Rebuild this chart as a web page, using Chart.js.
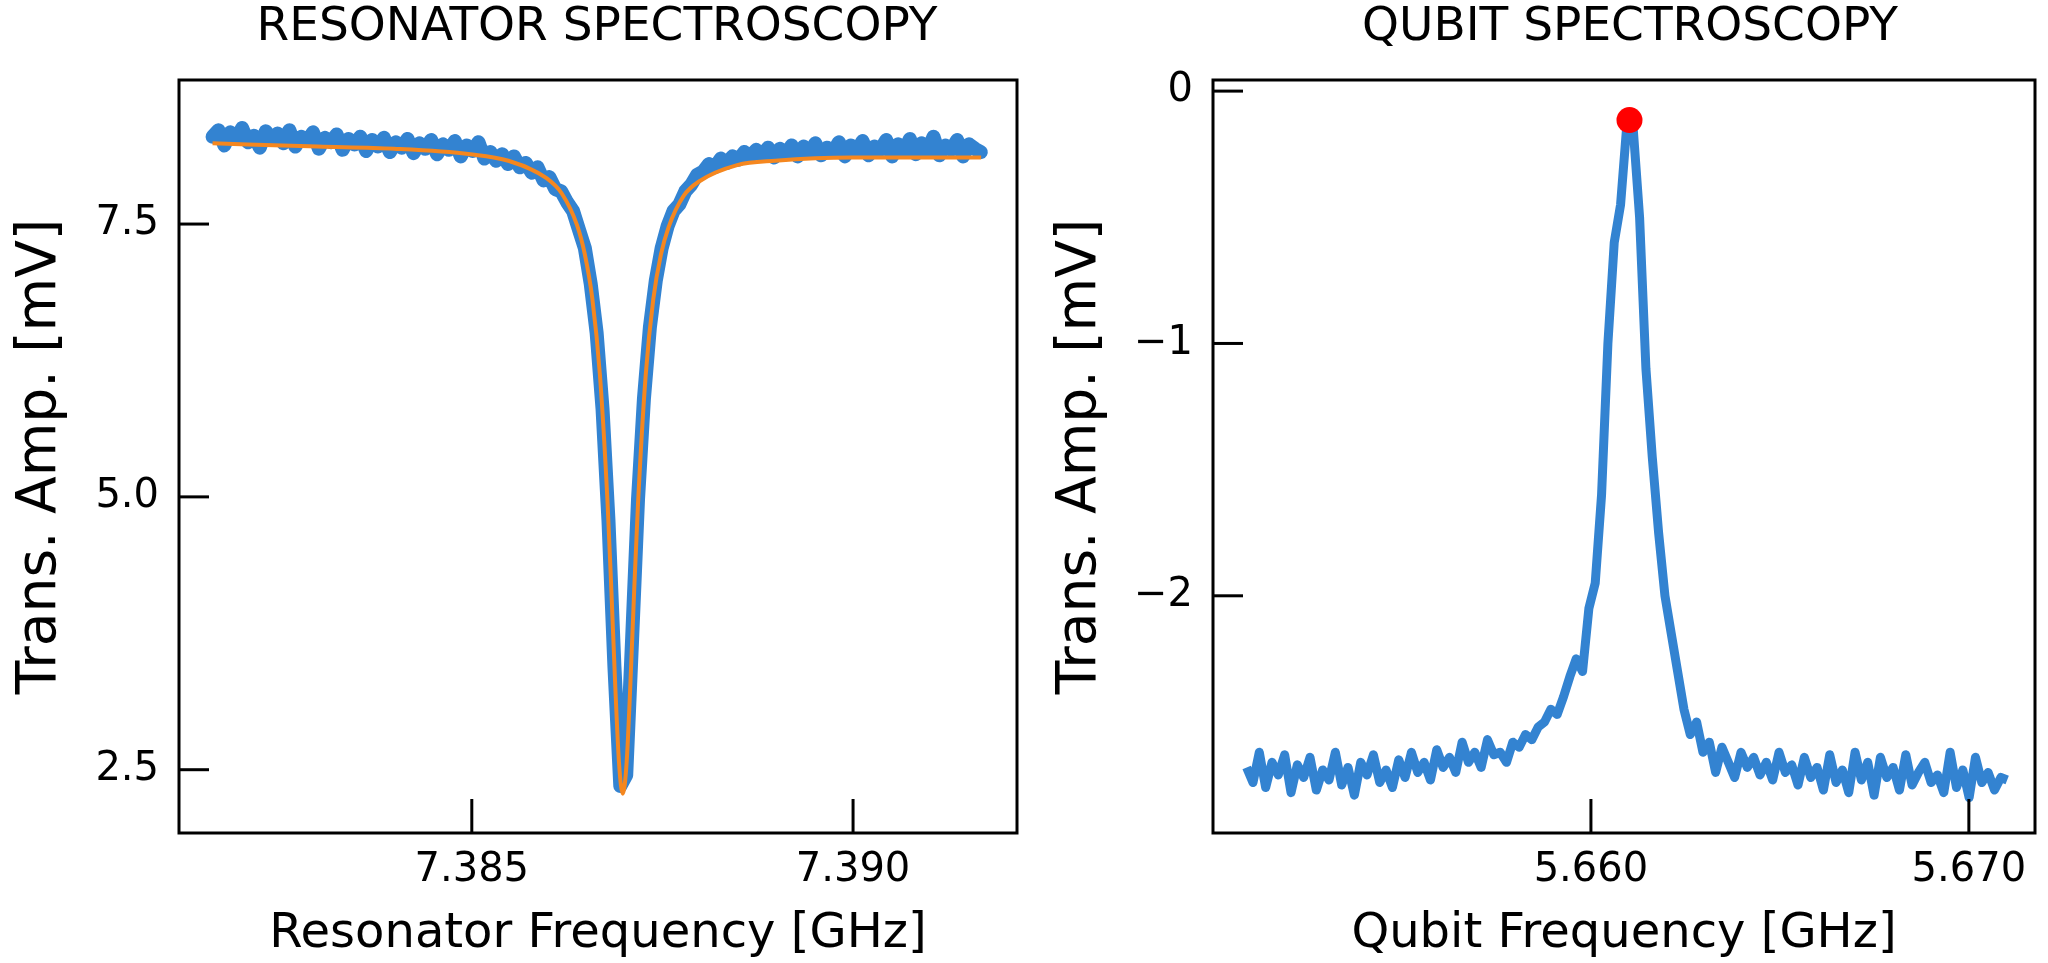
<!DOCTYPE html>
<html><head><meta charset="utf-8">
<script src="https://cdn.jsdelivr.net/npm/chart.js@4.4.1/dist/chart.umd.min.js"></script>
<style>
html,body{margin:0;padding:0;background:#fff;width:2048px;height:963px;overflow:hidden}
#w1{position:absolute;left:0;top:0;width:1040px;height:963px}
#w2{position:absolute;left:1040px;top:0;width:1008px;height:963px}
</style></head><body>
<div id="w1"><canvas id="c1"></canvas></div>
<div id="w2"><canvas id="c2"></canvas></div>
<script>
// ---- Resonator spectroscopy data ----
const resFreqStart = 7.3816;
const resFreqStep = 0.0000775;
const resAmp = [8.30,8.36,8.22,8.34,8.28,8.38,8.25,8.31,8.20,8.35,
8.27,8.33,8.24,8.36,8.21,8.30,8.26,8.34,8.19,8.29,
8.25,8.32,8.18,8.28,8.23,8.30,8.17,8.27,8.21,8.29,
8.16,8.25,8.20,8.28,8.15,8.24,8.19,8.27,8.14,8.23,
8.18,8.26,8.12,8.22,8.17,8.25,8.10,8.16,8.08,8.14,
8.05,8.12,8.02,8.06,7.97,8.02,7.90,7.93,7.82,7.80,
7.70,7.62,7.45,7.28,6.95,6.50,5.80,4.78,3.45,2.35,
2.45,3.70,4.98,5.90,6.55,6.98,7.28,7.48,7.62,7.68,
7.80,7.86,7.95,7.98,8.05,8.02,8.10,8.06,8.12,8.09,
8.16,8.12,8.18,8.13,8.20,8.11,8.19,8.14,8.22,8.12,
8.21,8.15,8.24,8.13,8.20,8.16,8.25,8.12,8.22,8.17,
8.26,8.13,8.21,8.18,8.27,8.12,8.23,8.16,8.28,8.14,
8.24,8.17,8.30,8.13,8.22,8.18,8.27,8.12,8.23,8.19,8.16];
const fitFreq = [7.3816,7.38298,7.38398,7.38498,7.38548,7.38598,7.38618,7.38638,7.38648,7.38658,7.38668,7.38678,7.38683,7.38688,7.38693,7.38698,
7.38703,7.38708,7.38713,7.38718,7.38728,7.38738,7.38748,7.38758,7.38778,7.38798,7.38848,7.38898,7.38998,7.39098,7.39168];
const fitAmp = [8.24,8.21,8.19,8.14,8.08,7.92,7.78,7.49,7.23,6.82,6.12,4.95,4.15,3.29,2.57,2.28,
2.56,3.29,4.15,4.94,6.11,6.81,7.22,7.47,7.76,7.89,8.04,8.08,8.11,8.11,8.11];
const resXTicks = [7.385, 7.390];
const resYTicks = [2.5, 5.0, 7.5];

// ---- Qubit spectroscopy data ----
const qbFreqStart = 5.65089;
const qbFreqStep = 0.0001677;
const qbAmp = [-2.68,-2.74,-2.62,-2.76,-2.66,-2.71,-2.63,-2.78,-2.67,-2.72,
-2.64,-2.77,-2.69,-2.73,-2.62,-2.75,-2.68,-2.79,-2.66,-2.71,
-2.63,-2.74,-2.69,-2.76,-2.65,-2.72,-2.62,-2.70,-2.66,-2.73,
-2.61,-2.68,-2.64,-2.70,-2.58,-2.66,-2.62,-2.68,-2.57,-2.63,
-2.62,-2.66,-2.58,-2.60,-2.55,-2.57,-2.52,-2.50,-2.45,-2.47,
-2.40,-2.32,-2.25,-2.30,-2.05,-1.95,-1.60,-1.00,-0.60,-0.45,
-0.13,-0.15,-0.50,-1.10,-1.45,-1.75,-2.00,-2.15,-2.30,-2.45,
-2.55,-2.50,-2.62,-2.58,-2.70,-2.60,-2.66,-2.72,-2.62,-2.68,
-2.64,-2.71,-2.66,-2.73,-2.62,-2.70,-2.67,-2.75,-2.64,-2.72,
-2.68,-2.77,-2.63,-2.74,-2.69,-2.78,-2.62,-2.73,-2.66,-2.79,
-2.64,-2.72,-2.68,-2.77,-2.63,-2.75,-2.70,-2.66,-2.74,-2.71,
-2.78,-2.62,-2.76,-2.69,-2.80,-2.64,-2.74,-2.70,-2.77,-2.72,-2.73];
const qbPeak = [{x:5.66102, y:-0.115}];
const qbXTicks = [5.660, 5.670];
const qbYTicks = [0, -1, -2];

const FONT = "'DejaVu Sans', sans-serif";
const BLUE = '#3383d1', ORANGE = '#f5871f';

function series(start, step, vals){ return vals.map((v,i)=>({x:start+i*step, y:v})); }
function pairs(xs, ys){ return xs.map((x,i)=>({x, y:ys[i]})); }

const framePlugin = {
  id:'frame',
  afterDraw(chart, args, opts){
    const ctx = chart.ctx, a = chart.chartArea;
    ctx.save();
    ctx.strokeStyle = '#000'; ctx.lineWidth = 3;
    ctx.strokeRect(a.left, a.top, a.right-a.left, a.bottom-a.top);
    const xs = chart.scales.x, ys = chart.scales.y;
    xs.ticks.forEach(t=>{ const p = xs.getPixelForValue(t.value);
      ctx.beginPath(); ctx.moveTo(p, a.bottom); ctx.lineTo(p, a.bottom-34); ctx.stroke(); });
    ys.ticks.forEach(t=>{ const p = ys.getPixelForValue(t.value);
      ctx.beginPath(); ctx.moveTo(a.left, p); ctx.lineTo(a.left+30, p); ctx.stroke(); });
    ctx.fillStyle = '#000'; ctx.font = '47px ' + FONT;
    ctx.textAlign = 'center'; ctx.textBaseline = 'middle';
    ctx.fillText(opts.text, opts.cx, 28);
    ctx.restore();
  }
};

function makeChart(id, datasets, xr, yr, xt, yt, xfmt, yfmt, yw, padR, xTitle, title, titleCx){
  return new Chart(document.getElementById(id), {
    type:'scatter',
    data:{datasets},
    plugins:[framePlugin],
    options:{
      responsive:true, maintainAspectRatio:false, animation:false,
      layout:{padding:{top:80, right:padR, left:0, bottom:0}},
      plugins:{legend:{display:false}, tooltip:{enabled:false}, frame:{text:title, cx:titleCx}},
      scales:{
        x:{type:'linear', min:xr[0], max:xr[1],
          afterBuildTicks:s=>{s.ticks = xt.map(v=>({value:v}));},
          afterFit:s=>{s.height = 130;},
          grid:{display:false, drawTicks:false}, border:{display:false},
          ticks:{color:'#000', font:{family:FONT, size:40}, padding:14, callback:xfmt, maxRotation:0},
          title:{display:true, text:xTitle, color:'#000', font:{family:FONT, size:48}, padding:{top:0,bottom:0}}},
        y:{type:'linear', min:yr[0], max:yr[1],
          afterBuildTicks:s=>{s.ticks = yt.map(v=>({value:v}));},
          afterFit:s=>{s.width = yw;},
          grid:{display:false, drawTicks:false}, border:{display:false},
          ticks:{color:'#000', font:{family:FONT, size:40}, padding:20, callback:yfmt},
          title:{display:true, text:'Trans. Amp. [mV]', color:'#000', font:{family:FONT, size:55}, padding:{top:8,bottom:0}}}
      }
    }
  });
}

makeChart('c1', [
  {data:pairs(fitFreq,fitAmp), showLine:true, borderColor:ORANGE, borderWidth:4, pointRadius:0, cubicInterpolationMode:'monotone'},
  {data:series(resFreqStart,resFreqStep,resAmp), showLine:true, borderColor:BLUE, borderWidth:14, pointRadius:0, tension:0, borderJoinStyle:'round', borderCapStyle:'round'}
], [7.38116, 7.39215], [1.92, 8.82], resXTicks, resYTicks,
  v=>v.toFixed(3), v=>v.toFixed(1), 179, 23, 'Resonator Frequency [GHz]', 'RESONATOR SPECTROSCOPY', 597);

makeChart('c2', [
  {data:qbPeak, showLine:false, pointRadius:13, pointBackgroundColor:'#ff0000', pointBorderWidth:0},
  {data:series(qbFreqStart,qbFreqStep,qbAmp), showLine:true, borderColor:BLUE, borderWidth:9, pointRadius:0, tension:0, borderJoinStyle:'round'}
], [5.6500, 5.67175], [-2.94, 0.044], qbXTicks, qbYTicks,
  v=>v.toFixed(3), v=>(v<0?'\u2212':'')+Math.abs(v).toFixed(0), 173, 2, 'Qubit Frequency [GHz]', 'QUBIT SPECTROSCOPY', 590);
</script></body></html>
